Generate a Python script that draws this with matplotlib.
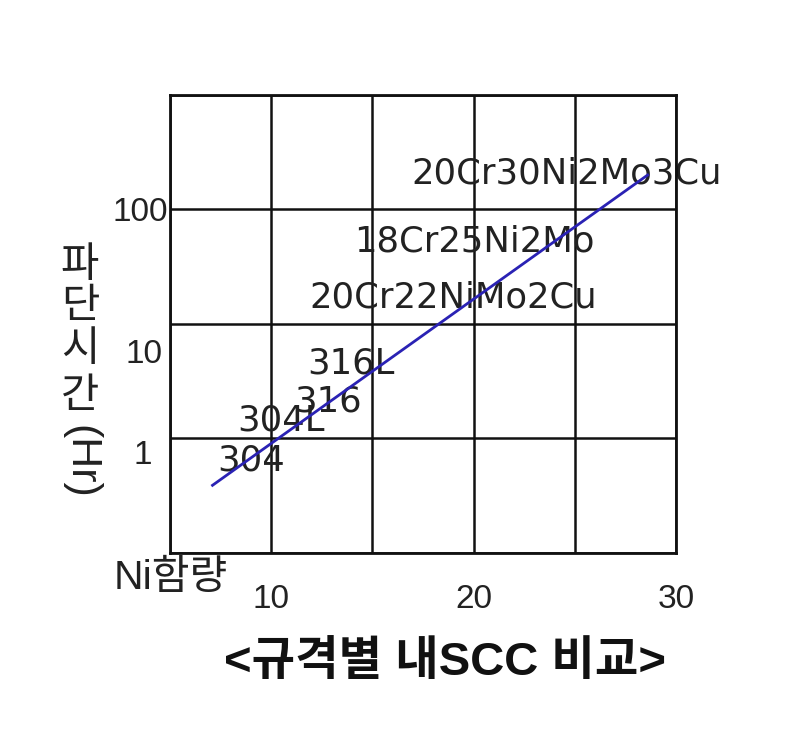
import matplotlib.pyplot as plt
from matplotlib.transforms import blended_transform_factory

# grade labels and where they sit (Ni %, rupture time in Hr)
grades = ["304", "304L", "316", "316L", "20Cr22NiMo2Cu", "18Cr25Ni2Mo", "20Cr30Ni2Mo3Cu"]
grade_x = [7.35, 8.3, 11.15, 11.8, 11.9, 14.1, 16.95]
grade_y = [0.64, 1.43, 2.1, 4.5, 17.2, 52.7, 206]

# fitted trend line
trend_x = [7.1, 28.6]
trend_y = [0.39, 200]

x_grid = [5, 10, 15, 20, 25, 30]
x_labels = ["", "10", "", "20", "", "30"]
y_grid = [0.1, 1, 10, 100, 1000]
y_labels = ["1", "10", "100"]
y_label_vals = [0.71, 5.4, 94]
y_label_right = [-0.035, -0.014, -0.004]

latin = ["Liberation Sans", "DejaVu Sans"]
wide = ["DejaVu Sans"]
korean = ["Noto Sans CJK KR", "DejaVu Sans"]
txt_color = "#222222"

fig = plt.figure(figsize=(8, 7.38), dpi=100)
ax = fig.add_axes([0.2125, 0.2507, 0.6325, 0.6206])

ax.set_yscale("log")
ax.set_xlim(5, 30)
ax.set_ylim(0.1, 1000)

for xv in x_grid:
    ax.axvline(xv, color="#111111", lw=1.8, zorder=1)
for yv in y_grid:
    ax.axhline(yv, color="#111111", lw=1.8, zorder=1)

ax.plot(trend_x, trend_y, color="#2a22b4", lw=2, zorder=3)

for name, gx, gy in zip(grades, grade_x, grade_y):
    ax.text(gx, gy, name, ha="left", va="center", fontsize=25.5,
            family=wide, color=txt_color, zorder=2)

ax.set_xticks(x_grid)
ax.set_xticklabels(x_labels, family=latin, fontsize=24, color=txt_color)
ax.tick_params(axis="x", length=0, pad=22)
ax.set_yticks([])
ax.yaxis.set_minor_locator(plt.NullLocator())

trans = blended_transform_factory(ax.transAxes, ax.transData)
for lab, yv, xr in zip(y_labels, y_label_vals, y_label_right):
    ax.text(xr, yv, lab, transform=trans, ha="right", va="center",
            fontsize=24, family=latin, color=txt_color)

for sp in ax.spines.values():
    sp.set_linewidth(2)
    sp.set_color("#111111")

# stacked vertical y label
ylab_chars = ["파", "단", "시", "간"]
ylab_pos = [265, 307, 349, 396]
for ch, py in zip(ylab_chars, ylab_pos):
    fig.text(0.1, 1 - py / 738, ch, ha="center", va="center", fontsize=30,
             family=korean, color=txt_color)
fig.text(0.1, 1 - 462 / 738, "(Hr)", ha="center", va="center", fontsize=31,
         rotation=-90, family=latin, color=txt_color)

fig.text(171 / 800, 1 - 578 / 738, "Ni함량", ha="center", va="center", fontsize=29.5,
         family=["Liberation Sans", "Noto Sans CJK KR"], color=txt_color)

fig.text(445 / 800, 1 - 663 / 738, "<규격별 내SCC 비교>", ha="center", va="center",
         fontsize=34, fontweight="bold", family=["Liberation Sans", "Noto Sans CJK KR"],
         color="#111111")

fig.savefig("out.png", dpi=100)
